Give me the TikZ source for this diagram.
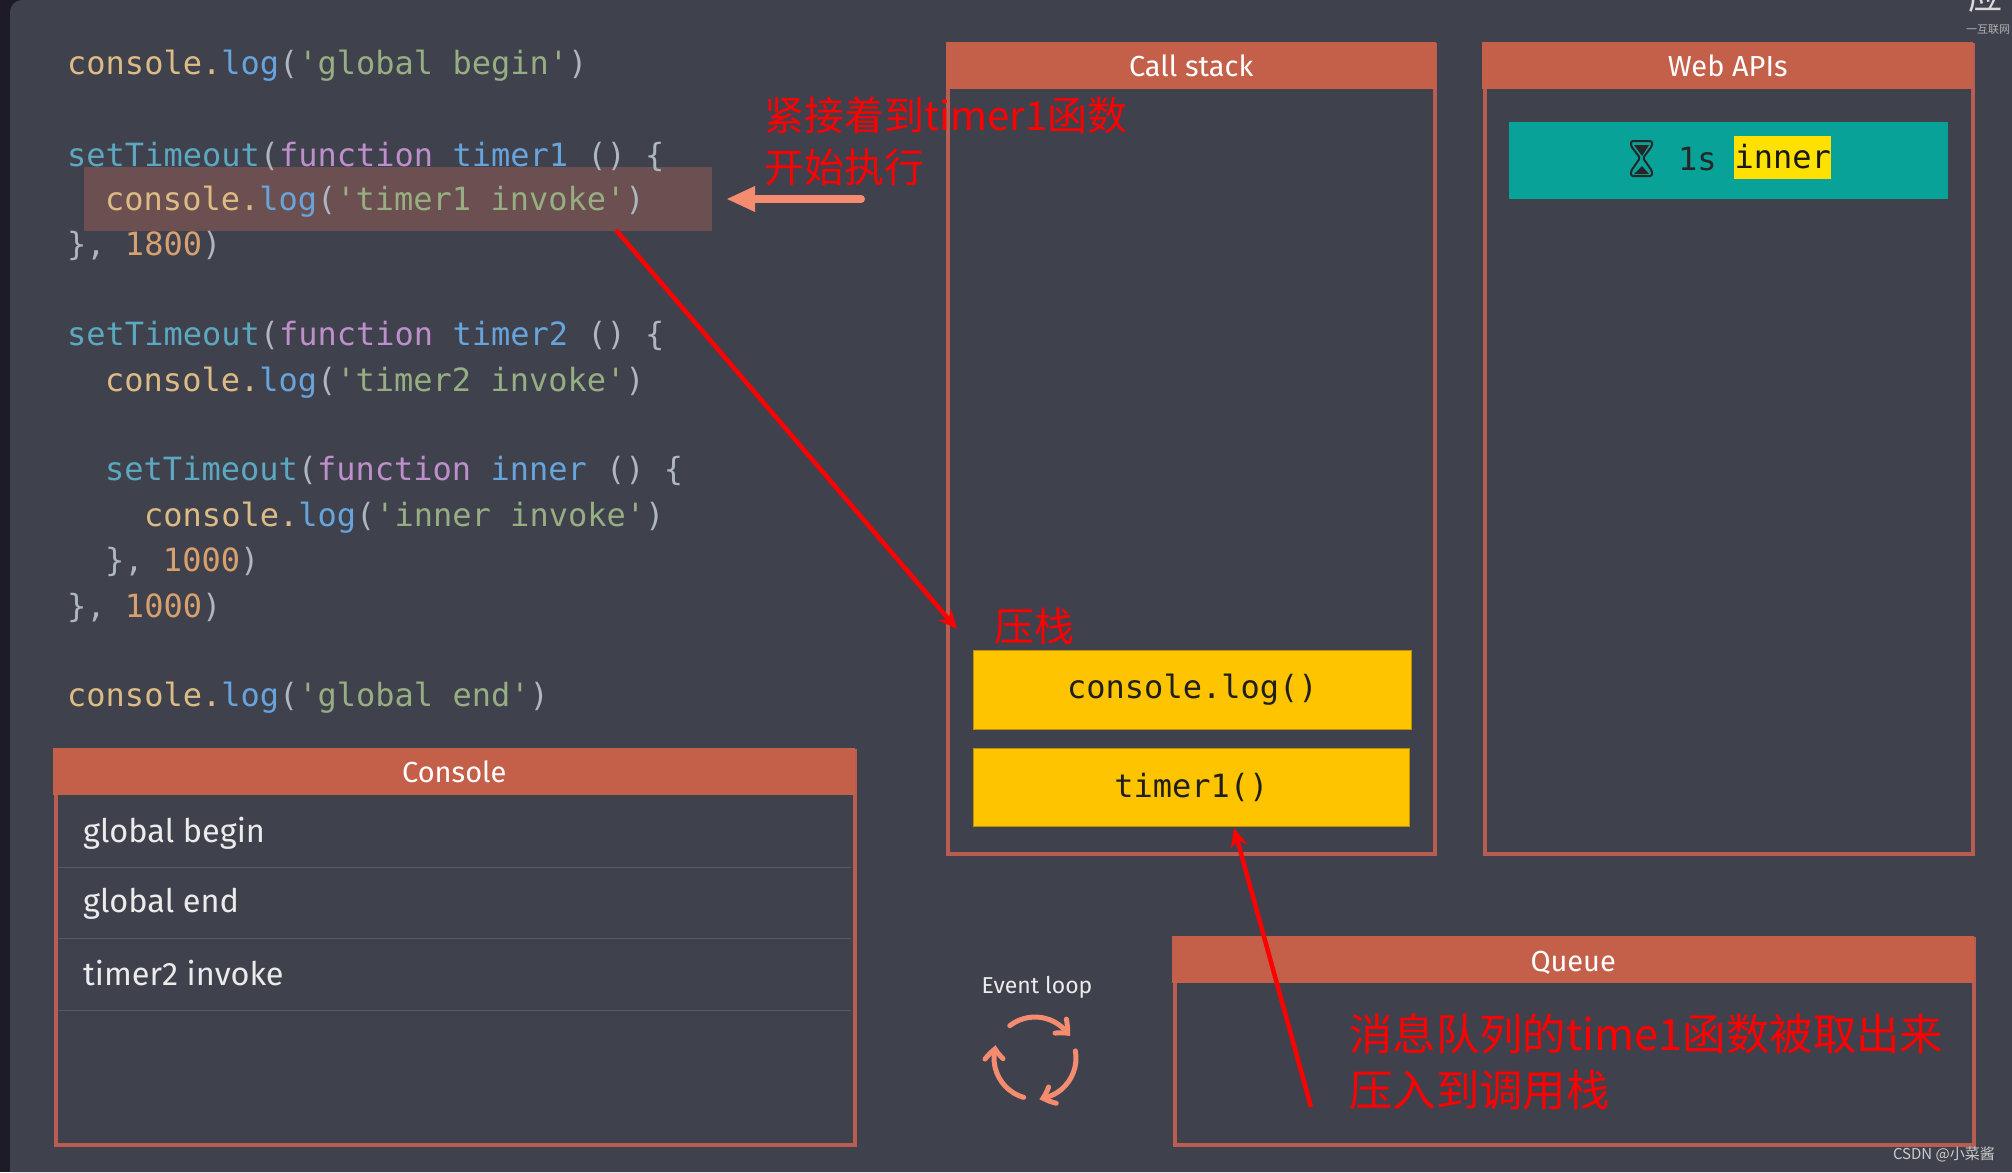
\documentclass[tikz,border=0pt]{standalone}
\usepackage{fontspec}
\setmainfont{Fira Sans}
\setmonofont{DejaVu Sans Mono}
\newfontfamily\cjk{Noto Sans CJK SC}
\usetikzlibrary{arrows.meta,bending}

\definecolor{slideBg}{HTML}{3F414D}
\definecolor{edgeDark}{HTML}{1D1B25}
\definecolor{panelRed}{HTML}{C4604A}
\definecolor{frameRed}{HTML}{B95C52}
\definecolor{stackYellow}{HTML}{FFC400}
\definecolor{timerTeal}{HTML}{08A298}
\definecolor{nameYellow}{HTML}{FFE100}
\definecolor{lineBar}{HTML}{6C4F50}
\definecolor{loopOrange}{HTML}{F58C70}
\definecolor{codeTan}{HTML}{DDBB84}
\definecolor{codeBlue}{HTML}{68A4DC}
\definecolor{codeGreen}{HTML}{97AE82}
\definecolor{codeTeal}{HTML}{5CA8C0}
\definecolor{codePurple}{HTML}{BE8FCB}
\definecolor{codeGrey}{HTML}{AEB6BF}
\definecolor{codeNum}{HTML}{D8A06E}

\newcommand{\cTan}[1]{\textcolor{codeTan}{#1}}
\newcommand{\cBlue}[1]{\textcolor{codeBlue}{#1}}
\newcommand{\cGreen}[1]{\textcolor{codeGreen}{#1}}
\newcommand{\cTeal}[1]{\textcolor{codeTeal}{#1}}
\newcommand{\cPurple}[1]{\textcolor{codePurple}{#1}}
\newcommand{\cNum}[1]{\textcolor{codeNum}{#1}}
\newcommand{\logCall}[1]{\cTan{console.}\cBlue{log}(\cGreen{'#1'})}
\newcommand{\timeoutCall}[1]{\cTeal{setTimeout}(\cPurple{function} \cBlue{#1} () \{}

\tikzset{
    codeline/.style={anchor=west, inner sep=0pt, text=codeGrey, font=\ttfamily\frenchspacing\fontsize{32}{38}\selectfont},
    panelframe/.style={anchor=north west, draw=frameRed, line width=4pt, minimum height=10pt},
    panelhead/.style={anchor=north west, fill=panelRed, inner sep=0pt, minimum height=47pt, text=white, font=\fontsize{29}{34}\selectfont},
    stackbox/.style={anchor=north west, fill=stackYellow, draw=stackYellow!75!black, line width=0.8pt, inner sep=0pt, text=black!88, font=\ttfamily\fontsize{32}{38}\selectfont},
    consolerow/.style={anchor=west, inner sep=0pt, text=white!92!black, font=\fontsize{32.5}{40}\selectfont},
    rowline/.style={draw=white!12!slideBg, line width=1pt},
    redlabel/.style={anchor=west, inner sep=0pt, text=red, font=\cjk\fontsize{40}{48}\selectfont},
    redarrow/.style={draw=red, line width=4.5pt, -{Stealth[length=19pt,width=17pt]}},
    looparc/.style={draw=loopOrange, line width=5pt, line cap=round, -{Straight Barb[bend,length=10pt,width=18pt,line cap=round]}},
}

\begin{document}
\begin{tikzpicture}[x=1pt, y=-1pt]
    % --- Page and Background ---
    \useasboundingbox (0,0) rectangle (2012,1172);
    \clip (0,0) rectangle (2012,1172);
    \fill[edgeDark] (0,0) rectangle (2012,1172);
    \fill[slideBg] (10,1172) -- (10,12) arc[start angle=180, end angle=270, radius=12] -- (2012,0) -- (2012,1172) -- cycle;

    % --- Code Listing ---
    \node[anchor=north west, fill=lineBar, inner sep=0pt, minimum width=628pt, minimum height=64pt] (lineBar) at (84,167) {};
    \node[codeline] (codeA) at (67,66) {\logCall{global begin}};
    \node[codeline] (codeB) at (67,157) {\timeoutCall{timer1}};
    \node[codeline] (codeC) at (105,202) {\logCall{timer1 invoke}};
    \node[codeline] (codeD) at (67,246) {\}, \cNum{1800})};
    \node[codeline] (codeE) at (67,336) {\timeoutCall{timer2}};
    \node[codeline] (codeF) at (105,383) {\logCall{timer2 invoke}};
    \node[codeline] (codeG) at (105,471) {\timeoutCall{inner}};
    \node[codeline] (codeH) at (144,518) {\logCall{inner invoke}};
    \node[codeline] (codeI) at (105,562) {\}, \cNum{1000})};
    \node[codeline] (codeJ) at (67,608) {\}, \cNum{1000})};
    \node[codeline] (codeK) at (67,698) {\logCall{global end}};

    % --- Call Stack Panel ---
    \node[panelframe, minimum width=487pt, minimum height=809pt] (callFrame) at (946,43) {};
    \node[panelhead, minimum width=490pt] (callHead) at (946,42) {Call stack};
    \node[stackbox, minimum width=438pt, minimum height=79pt] (logBox) at (973,650) {console.log()};
    \node[stackbox, minimum width=436pt, minimum height=78pt] (timerBox) at (973,748) {timer1()};

    % --- Web APIs Panel ---
    \node[panelframe, minimum width=488pt, minimum height=809pt] (webFrame) at (1483,43) {};
    \node[panelhead, minimum width=491pt] (webHead) at (1482,42) {Web APIs};
    \node[anchor=north west, fill=timerTeal, inner sep=0pt, minimum width=439pt, minimum height=77pt] (timerCard) at (1509,122) {};
    \node[anchor=west, inner sep=0pt, text=black!85, font=\ttfamily\fontsize{32}{38}\selectfont] (timerSecs) at (1678,159) {1s};
    \node[anchor=west, fill=nameYellow, inner sep=0pt, minimum width=97pt, minimum height=43pt, text=black!90, font=\ttfamily\fontsize{32}{38}\selectfont] (timerName) at (1734,157) {inner};
    % hourglass
    \draw[black!85, line width=2pt, rounded corners=1.5pt] (1631,141) -- (1652,141) -- (1652,146) -- (1643,158) -- (1652,171) -- (1652,176) -- (1631,176) -- (1631,171) -- (1640,158) -- (1631,146) -- cycle;
    \fill[black!85] (1634,145) -- (1649,145) -- (1642,156) -- cycle;
    \fill[black!85] (1634,174) -- (1649,174) -- (1642,166) -- cycle;

    % --- Console Panel ---
    \node[panelframe, minimum width=799pt, minimum height=394pt] (consoleFrame) at (54,749) {};
    \node[panelhead, minimum width=802pt] (consoleHead) at (53,748) {Console};
    \node[consolerow] (rowA) at (83,833) {global begin};
    \node[consolerow] (rowB) at (83,904) {global end};
    \node[consolerow] (rowC) at (83,973) {timer2 invoke};
    \draw[rowline] (58,867) -- (851,867);
    \draw[rowline] (58,938) -- (851,938);
    \draw[rowline] (58,1010) -- (851,1010);

    % --- Queue Panel ---
    \node[panelframe, minimum width=799pt, minimum height=206pt] (queueFrame) at (1173,937) {};
    \node[panelhead, minimum width=802pt] (queueHead) at (1172,936) {\raisebox{-3pt}[\height][\depth]{Queue}};

    % --- Event Loop ---
    \node[inner sep=0pt, text=white!92!black, font=\fontsize{23}{28}\selectfont] (loopLabel) at (1037,987) {Event loop};
    \draw[looparc] (1035,1058) ++(232:41) arc[start angle=232, end angle=328, radius=41];
    \draw[looparc] (1035,1058) ++(350:41) arc[start angle=350, end angle=444, radius=41];
    \draw[looparc] (1035,1058) ++(106:41) arc[start angle=106, end angle=198, radius=41];

    % --- Annotations ---
    \draw[draw=loopOrange, line width=8pt, line cap=round] (861,199) -- (752,199);
    \fill[loopOrange] (727,199) -- (755,186) -- (755,212) -- cycle;

    \node[redlabel] (noteStart) at (764,115) {紧接着到timer1函数};
    \node[redlabel] (noteRun) at (764,167) {开始执行};
    \node[redlabel] (notePush) at (994,626) {压栈};
    \node[redlabel, font=\cjk\fontsize{43.4}{50}\selectfont] (noteQueueA) at (1349,1034) {消息队列的time1函数被取出来};
    \node[redlabel, font=\cjk\fontsize{43.4}{50}\selectfont] (noteQueueB) at (1349,1090) {压入到调用栈};

    \coordinate (pushTail) at (616,230);
    \coordinate (pushTip) at (957,629);
    \coordinate (queueTail) at (1311,1107);
    \coordinate (queueTip) at (1234,828);
    \draw[redarrow] (pushTail) -- (pushTip);
    \draw[redarrow] (queueTail) -- (queueTip);

    % --- Watermarks ---
    \node[anchor=west, inner sep=0pt, text=white!85!black, font=\cjk\fontsize{34}{40}\selectfont] (markTop) at (1968,-3) {应};
    \node[anchor=west, inner sep=0pt, text=white!70!black, font=\cjk\fontsize{11}{13}\selectfont] (markSub) at (1966,29) {一互联网};
    \node[anchor=east, inner sep=0pt, text=white!80!black, font=\cjk\fontsize{15}{18}\selectfont] (markSite) at (1995,1154) {CSDN @小菜酱};
\end{tikzpicture}
\end{document}
